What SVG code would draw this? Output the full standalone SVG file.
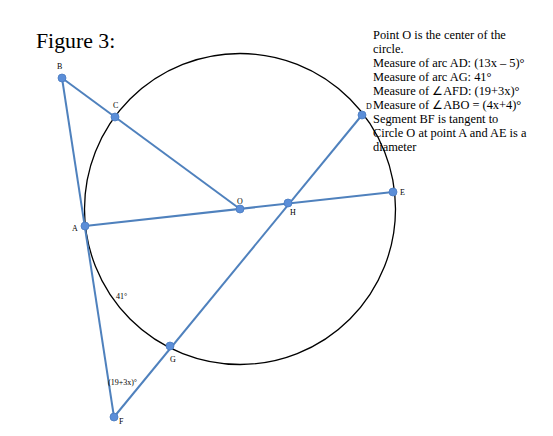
<svg xmlns="http://www.w3.org/2000/svg" width="553" height="436" viewBox="0 0 553 436">
<style>
.ln{stroke:#4f81bd;stroke-width:2;fill:none}
.pt{fill:#5b8ed8;stroke:#4a7bc0;stroke-width:0.8}
.lb{font-family:"Liberation Serif",serif;font-size:8px;fill:#000}
.tx{font-family:"Liberation Serif",serif;font-size:12.4px;fill:#000}
</style>
<rect width="553" height="436" fill="#fff"/>
<text x="36" y="48" font-family="Liberation Serif,serif" font-size="21.8" fill="#000">Figure 3:</text>
<g id="circle"><circle cx="240" cy="209" r="155.5" fill="none" stroke="#000" stroke-width="1.3"/></g>
<g id="connectors">
<line class="ln" x1="62" y1="78" x2="114" y2="417"/>
<line class="ln" x1="62" y1="78" x2="240" y2="209"/>
<line class="ln" x1="85" y1="226" x2="393" y2="192"/>
<line class="ln" x1="114" y1="417" x2="362" y2="115"/>
</g>
<g id="B"><circle class="pt" cx="62" cy="78" r="4"/><text class="lb" x="57" y="69">B</text></g>
<g id="C"><circle class="pt" cx="115" cy="117" r="4"/><text class="lb" x="113" y="108">C</text></g>
<g id="A"><circle class="pt" cx="85" cy="226" r="4"/><text class="lb" x="72" y="231">A</text></g>
<g id="O"><circle class="pt" cx="240" cy="209" r="4"/><text class="lb" x="237" y="204">O</text></g>
<g id="H"><circle class="pt" cx="288" cy="203" r="4"/><text class="lb" x="290" y="215">H</text></g>
<g id="E"><circle class="pt" cx="393" cy="192" r="4"/><text class="lb" x="400" y="195">E</text></g>
<g id="G"><circle class="pt" cx="170" cy="346" r="4"/><text class="lb" x="170" y="362">G</text></g>
<g id="F"><circle class="pt" cx="114" cy="417" r="4"/><text class="lb" x="119" y="424">F</text></g>
<g id="D"><circle class="pt" cx="362" cy="115" r="4"/><text class="lb" x="366" y="109">D</text></g>
<text class="lb" x="116" y="299" font-size="9">41°</text>
<text class="lb" x="108" y="385" font-size="10">(19+3x)°</text>
<g id="info" class="tx">
<text x="373" y="38.5">Point O is the center of the</text>
<text x="373" y="52.6">circle.</text>
<text x="373" y="66.7">Measure of arc AD: (13x – 5)°</text>
<text x="373" y="80.8">Measure of arc AG: 41°</text>
<text x="373" y="94.9">Measure of ∠AFD: (19+3x)°</text>
<text x="373" y="109">Measure of ∠ABO = (4x+4)°</text>
<text x="373" y="123.1">Segment BF is tangent to</text>
<text x="373" y="137.2">Circle O at point A and AE is a</text>
<text x="373" y="151.3">diameter</text>
</g>
</svg>
